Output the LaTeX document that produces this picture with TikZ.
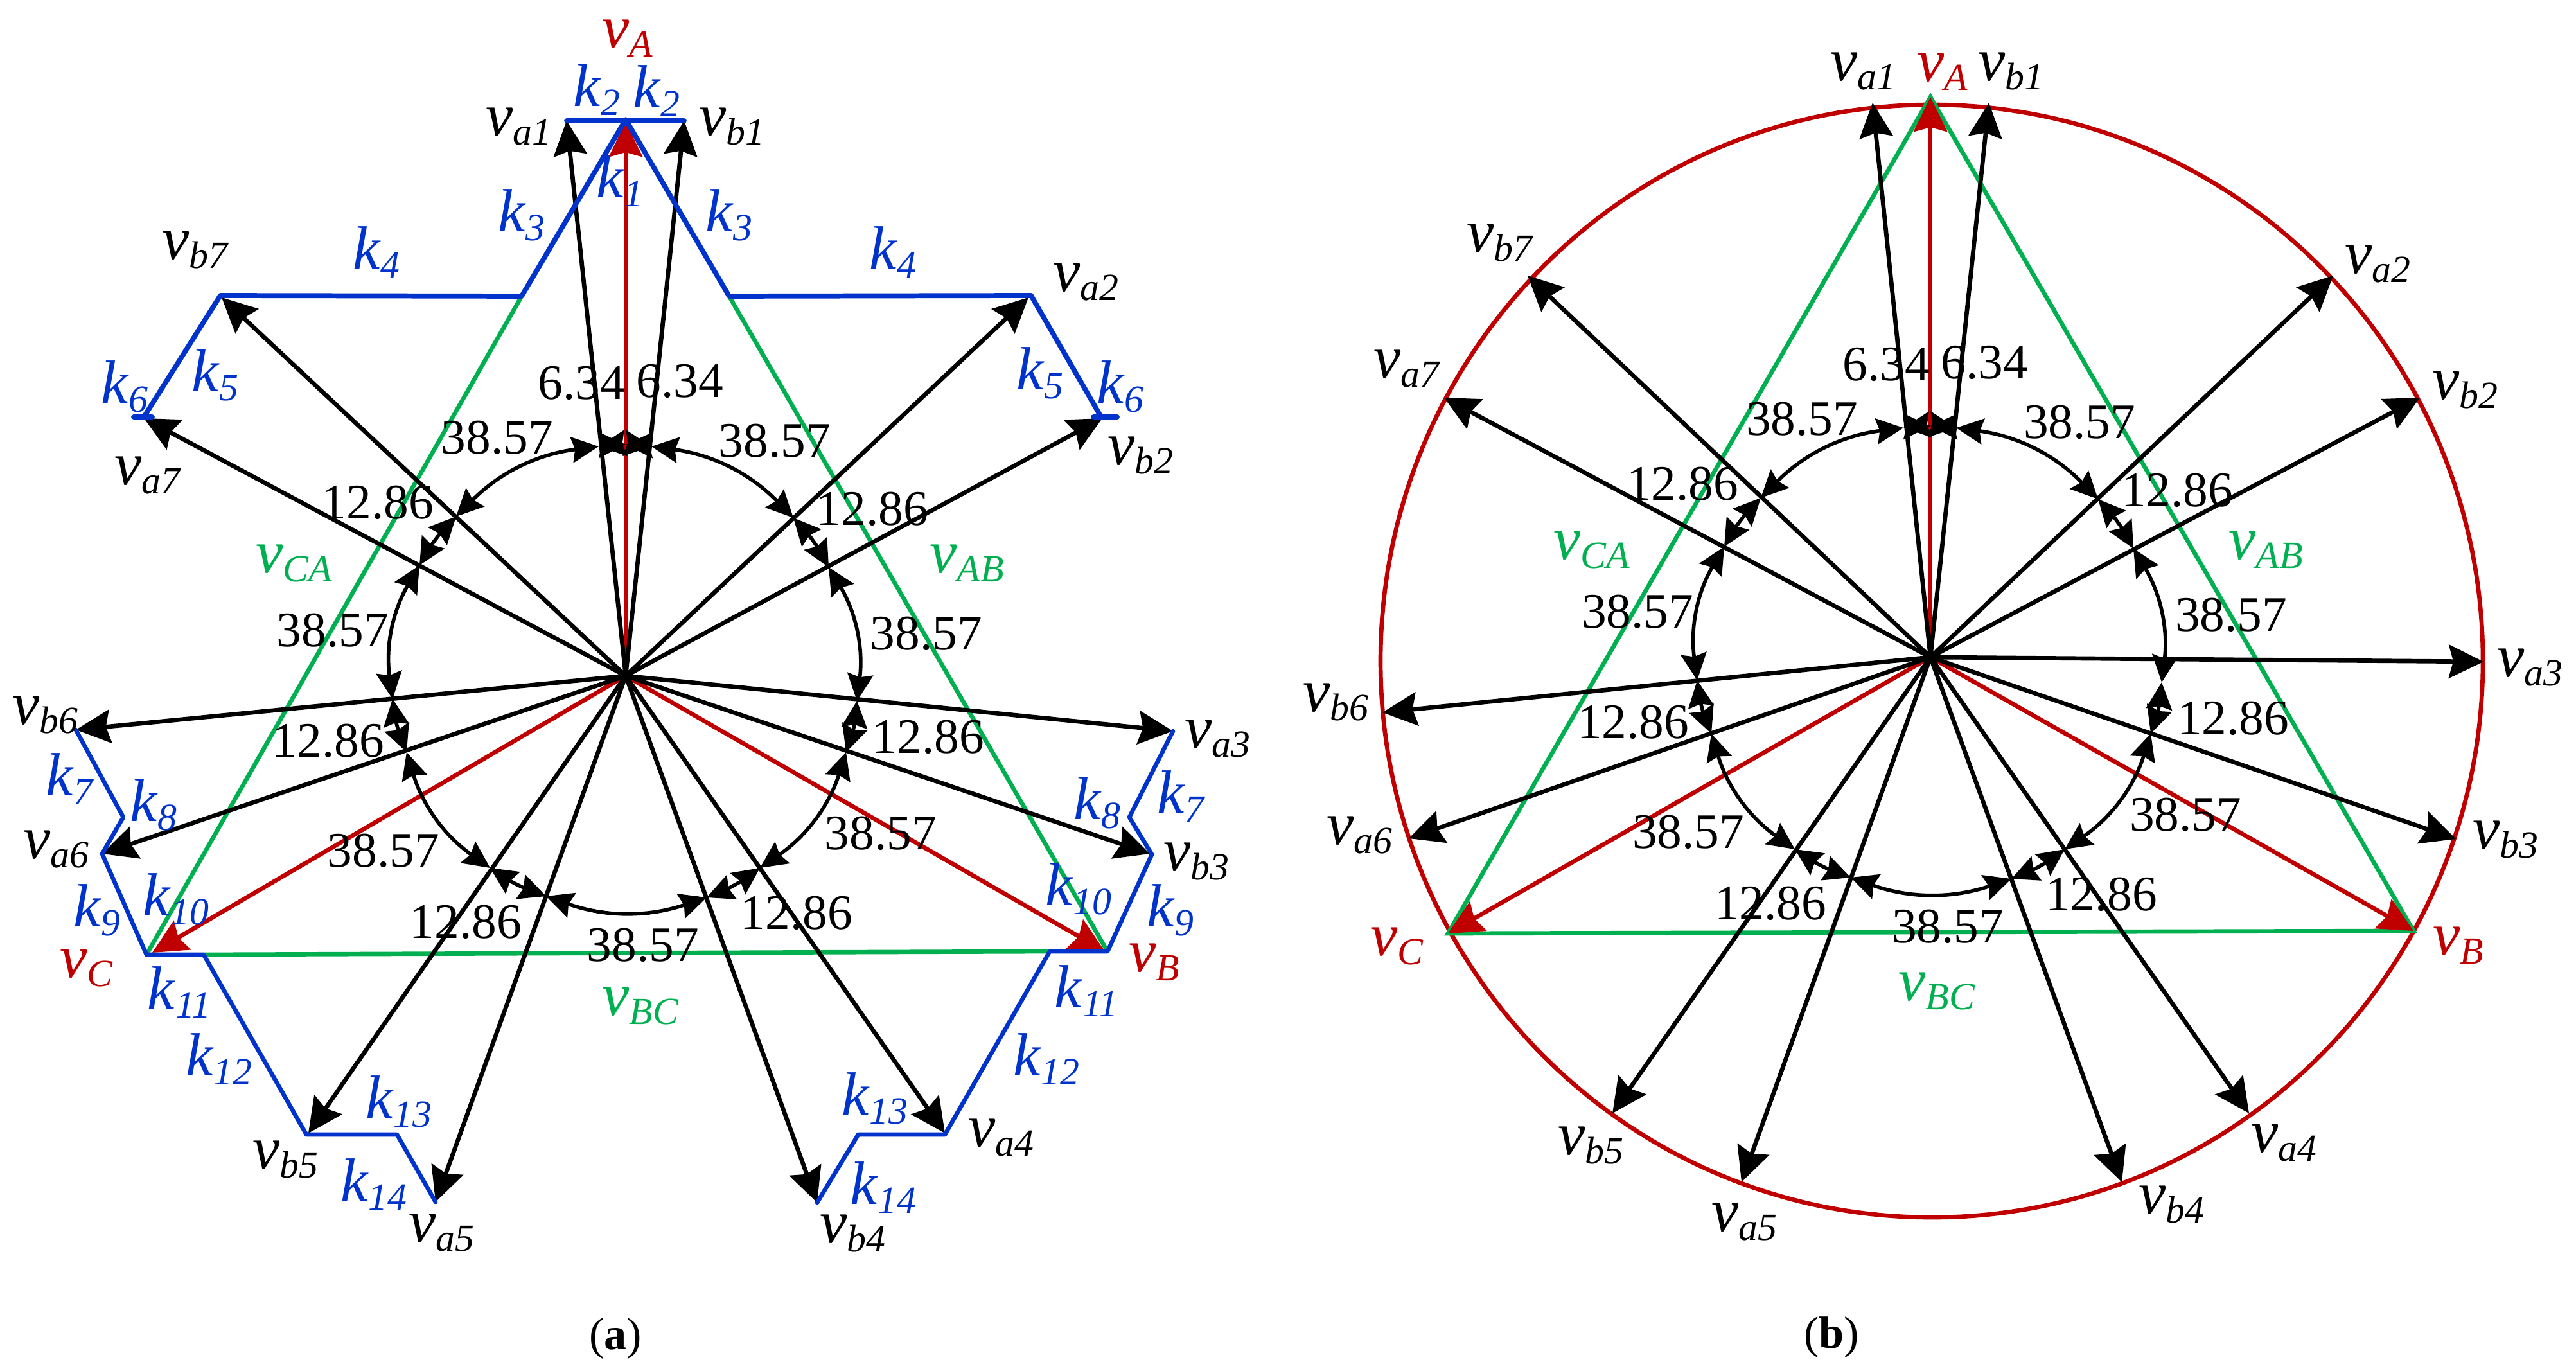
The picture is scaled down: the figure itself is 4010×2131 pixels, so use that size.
\documentclass[tikz,border=0pt]{standalone}
\usepackage{fontspec}
\setmainfont{Liberation Serif}
\usetikzlibrary{arrows.meta}
\definecolor{phred}{RGB}{192,0,0}
\definecolor{phgreen}{RGB}{0,176,80}
\definecolor{phblue}{RGB}{0,51,204}
\newcommand{\vsub}[2]{\textit{#1}\raisebox{-4pt}{\fontsize{17}{18}\selectfont\textit{#2}}}
\newcommand{\hub}{
\foreach \n/\x/\y in {j0/0/-360,j1/-42/-357,j2/-264/-248,j3/-321/-172,j4/-363/36,j5/-341/119,j6/-211/299,j7/-124/343,
j8/126/345,j9/209/299,j10/343/119,j11/360/39,j12/316/-169,j13/261/-246,j14/40/-357} {\coordinate (\n) at (\x,\y);}
\foreach \p/\q/\b in {j0/j1/3,j1/j2/19,j2/j3/6.5,j3/j4/19,j4/j5/6.5,j5/j6/19,j6/j7/6.5,j7/j8/19,j8/j9/6.5,j9/j10/19,
j10/j11/6.5,j11/j12/19,j12/j13/6.5,j13/j14/19,j14/j0/3} {\draw[dbl] (\p) to[bend right=\b] (\q);}
\foreach \n/\x/\y/\t in {n1/-69/-456/6.34,n2/84/-459/6.34,n3/-200/-371/38.57,n4/232/-366/38.57,n5/-386/-270/12.86,n6/384/-260/12.86,
n7/-456/-71/38.57,n8/468/-66/38.57,n9/-463/101/12.86,n10/471/95/12.86,n11/-377/272/38.57,n12/397/245/38.57,n13/-249/383/12.86,
n14/266/369/12.86,n15/27/419/38.57} {\node[num] (\n) at (\x,\y) {\t};}
}
\begin{document}
\begin{tikzpicture}[x=0.01cm,y=-0.01cm,
arw/.style={line width=1.9pt,-{Stealth[length=0.54cm,width=0.52cm,inset=0.07cm]}},
redarw/.style={arw,phred},
dbl/.style={line width=1.6pt,{Stealth[length=0.42cm,width=0.4cm,inset=0.05cm]}-{Stealth[length=0.42cm,width=0.4cm,inset=0.05cm]}},
bluepath/.style={line width=2.2pt,phblue,line cap=round,line join=round},
greenline/.style={line width=1.9pt,phgreen},
lab/.style={inner sep=0pt,font=\fontsize{27}{30}\selectfont},
num/.style={inner sep=0pt,font=\fontsize{22}{24}\selectfont},
captext/.style={inner sep=0pt,font=\fontsize{20}{22}\selectfont}]
\useasboundingbox (0,0) rectangle (4010,2131);
% (a) star
\foreach \n/\x/\y in {aO/974/1052,avA/974/190,avB/1720/1481,avC/237/1483,ava1/882/188,avb1/1065/188,avb7/345/463,ava2/1601/463,
ava7/224/651,avb2/1716/651,avb6/118/1136,ava3/1826/1138,ava6/159/1329,avb3/1790/1329,avb5/480/1764,ava5/678/1871,avb4/1272/1872,ava4/1471/1764,
at1/974/186,at2/812/461,at3/343/460,at4/224/649,at5/208/649,at6/237/649,at7/1135/461,at8/1605/460,at9/1714/649,at10/1702/649,at11/1739/649,
al1/118/1136,al2/192/1272,al3/159/1329,al4/228/1486,al5/317/1486,al6/477/1766,al7/618/1766,al8/678/1871,
ar1/1826/1138,ar2/1758/1272,ar3/1793/1330,ar4/1724/1481,ar5/1634/1481,ar6/1471/1766,ar7/1336/1766,ar8/1272/1872} {\coordinate (\n) at (\x,\y);}
\draw[greenline] (at2) -- (al4) (at7) -- (ar4) (al5) -- (ar5);
\foreach \t in {avA,avB,avC} {\draw[redarw] (aO) -- (\t);}
\foreach \t in {ava1,avb1,avb7,ava2,ava7,avb2,avb6,ava3,ava6,avb3,avb5,ava5,avb4,ava4} {\draw[arw] (aO) -- (\t);}
\draw[bluepath] (ava1) -- (avb1) (at3) -- (at2) -- (at1) -- (at7) -- (at8) -- (at9) (at3) -- (at4) (at5) -- (at6) (at10) -- (at11);
\draw[bluepath,line width=1.9pt] (al1) -- (al2) -- (al3) -- (al4) -- (al5) -- (al6) -- (al7) -- (al8);
\draw[bluepath,line width=1.9pt] (ar1) -- (ar2) -- (ar3) -- (ar4) -- (ar5) -- (ar6) -- (ar7) -- (ar8);
\begin{scope}[shift={(974,1052)},name prefix=a-]
\hub
\end{scope}
\foreach \n/\x/\y/\s in {la1/807/197/a1,lb1/1139/197/b1,lb7/304/389/b7,la2/1690/439/a2,la7/230/740/a7,lb2/1775/709/b2,lb6/70/1113/b6,la3/1895/1150/a3,
la6/87/1322/a6,lb3/1862/1341/b3,lb5/444/1805/b5,la4/1558/1771/a4,la5/687/1919/a5,lb4/1327/1920/b4} {\node[lab] (\n) at (\x,\y) {\vsub{v}{\s}};}
\foreach \n/\x/\y/\s in {lA/977/60/A,lB/1797/1498/B,lC/135/1507/C} {\node[lab,phred] (\n) at (\x,\y) {\vsub{v}{\s}};}
\foreach \n/\x/\y/\s in {lCA/458/877/CA,lAB/1505/877/AB,lBC/997/1566/BC} {\node[lab,phgreen] (\n) at (\x,\y) {\vsub{v}{\s}};}
\foreach \n/\x/\y/\s in {k1/965/282/1,k2l/929/140/2,k2r/1022/142/2,k3l/812/335/3,k3r/1135/335/3,k4l/586/393/4,k4r/1390/393/4,k5l/335/584/5,k5r/1619/581/5,
k6l/194/602/6,k6r/1744/602/6,k7l/109/1213/7,k7r/1839/1240/7,k8l/239/1253/8,k8r/1708/1250/8,k9l/151/1417/9,k9r/1822/1417/9,k10l/274/1400/10,k10r/1679/1384/10,
k11l/279/1545/11,k11r/1691/1543/11,k12l/341/1649/12,k12r/1629/1649/12,k13l/621/1715/13,k13r/1362/1710/13,k14l/582/1844/14,k14r/1375/1849/14}
{\node[lab,phblue] (\n) at (\x,\y) {\vsub{k}{\s}};}
\node[captext] (capa) at (958,2084) {(\textbf{a})};
% (b) circle
\foreach \n/\x/\y in {bO/3005/1023,bvA/3005/151,bvB/3757/1449,bvC/2254/1453,bva1/2915/160,bvb1/3096/160,bva2/3632/429,bvb7/2378/429,bva7/2248/619,bvb2/3767/619,
bva3/3866/1030,bvb6/2152/1109,bva6/2193/1305,bvb3/3823/1306,bvb5/2510/1733,bva5/2711/1840,bvb4/3303/1840,bva4/3501/1733} {\coordinate (\n) at (\x,\y);}
\draw[line width=1.9pt,phred] (3007,1029) ellipse (858 and 866);
\draw[greenline] (bvA) -- (bvB) -- (bvC) -- cycle;
\foreach \t in {bvA,bvB,bvC} {\draw[redarw] (bO) -- (\t);}
\foreach \t in {bva1,bvb1,bva2,bvb7,bva7,bvb2,bva3,bvb6,bva6,bvb3,bvb5,bva5,bvb4,bva4} {\draw[arw] (bO) -- (\t);}
\begin{scope}[shift={(3005,1023)},name prefix=b-]
\hub
\end{scope}
\foreach \n/\x/\y/\s in {ma1/2900/111/a1,mb1/3130/111/b1,mb7/2335/378/b7,ma2/3701/411/a2,ma7/2190/574/a7,mb2/3837/607/b2,ma3/3938/1039/a3,mb6/2079/1093/b6,
ma6/2116/1300/a6,mb3/3900/1307/b3,mb5/2476/1783/b5,ma4/3555/1779/a4,ma5/2715/1902/a5,mb4/3380/1875/b4} {\node[lab] (\n) at (\x,\y) {\vsub{v}{\s}};}
\foreach \n/\x/\y/\s in {mA/3024/112/A,mB/3827/1472/B,mC/2175/1473/C} {\node[lab,phred] (\n) at (\x,\y) {\vsub{v}{\s}};}
\foreach \n/\x/\y/\s in {mCA/2478/856/CA,mAB/3527/856/AB,mBC/3015/1543/BC} {\node[lab,phgreen] (\n) at (\x,\y) {\vsub{v}{\s}};}
\node[captext] (capb) at (2851,2082) {(\textbf{b})};
\end{tikzpicture}
\end{document}
